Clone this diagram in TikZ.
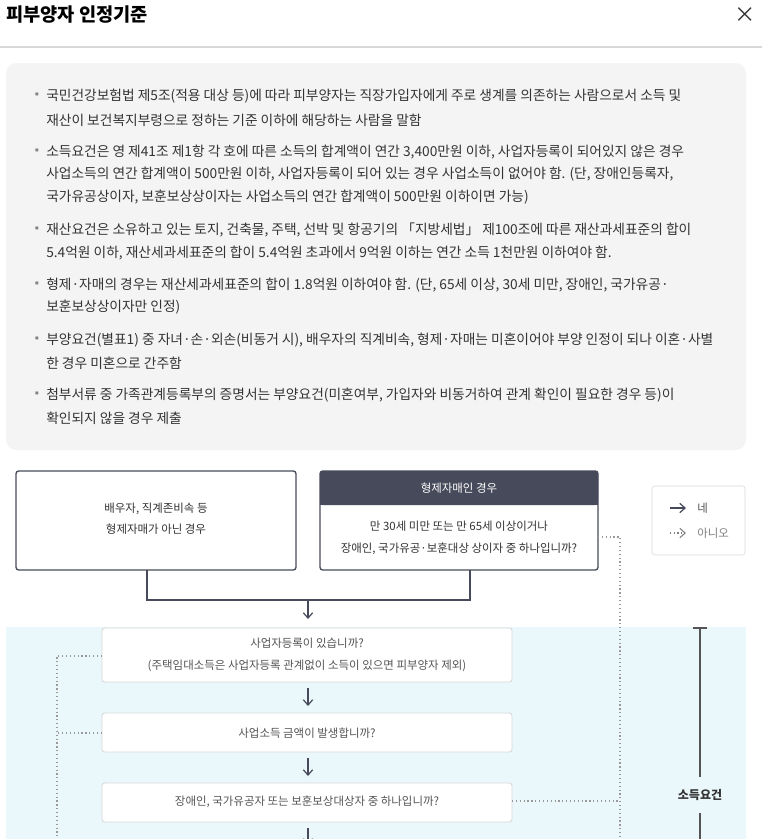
\documentclass[tikz,border=0pt]{standalone}
\usepackage{fontspec}
\setmainfont{Noto Sans CJK KR}
\usetikzlibrary{arrows.meta}
\definecolor{txt}{HTML}{333333}
\definecolor{gtxt}{HTML}{555555}
\definecolor{dark}{HTML}{474A5A}
\definecolor{panel}{HTML}{F4F4F4}
\definecolor{band}{HTML}{EAF8FC}
\definecolor{bord}{HTML}{D8D8D8}
\begin{document}
\begin{tikzpicture}[x=0.75pt,y=-0.75pt,
  bl/.style={anchor=west,text=txt,font=\fontsize{10.3}{12}\selectfont,inner sep=0},
  dot/.style={anchor=center,text=gray,font=\fontsize{8}{10}\selectfont,inner sep=0},
  wbox/.style={draw=bord,fill=white,rounded corners=2pt,line width=0.7pt},
  btxt/.style={text=gtxt,font=\fontsize{8.6}{16}\selectfont,align=center,inner sep=0},
  dtd/.style={draw=gray!80,dotted,line width=0.9pt},
  ar/.style={-{Straight Barb[length=4pt,width=7pt]},line width=0.9pt,draw=dark}]
\useasboundingbox (0,0) rectangle (762,839);
\fill[white] (0,0) rectangle (762,839);
\node[anchor=west,font=\fontsize{14}{16}\selectfont\bfseries,text=black,inner sep=0] (title) at (6,15) {피부양자 인정기준};
\node[font=\fontsize{16}{16}\selectfont,text=txt,inner sep=0] (close) at (745,15) {×};
\draw[bord,line width=0.8pt] (0,47) -- (762,47);
\fill[panel,rounded corners=8pt] (6,63) rectangle (746,450);
\foreach \y in {96,152,230,285,340,395} \node[dot] at (37,\y) {▪};
\node[bl] (l1) at (46,96) {국민건강보험법 제5조(적용 대상 등)에 따라 피부양자는 직장가입자에게 주로 생계를 의존하는 사람으로서 소득 및};
\node[bl] (l2) at (46,120) {재산이 보건복지부령으로 정하는 기준 이하에 해당하는 사람을 말함};
\node[bl] (l3) at (46,152) {소득요건은 영 제41조 제1항 각 호에 따른 소득의 합계액이 연간 3,400만원 이하, 사업자등록이 되어있지 않은 경우};
\node[bl] (l4) at (46,174) {사업소득의 연간 합계액이 500만원 이하, 사업자등록이 되어 있는 경우 사업소득이 없어야 함. (단, 장애인등록자,};
\node[bl] (l5) at (46,197) {국가유공상이자, 보훈보상상이자는 사업소득의 연간 합계액이 500만원 이하이면 가능)};
\node[bl] (l6) at (46,230) {재산요건은 소유하고 있는 토지, 건축물, 주택, 선박 및 항공기의 「지방세법」 제100조에 따른 재산과세표준의 합이};
\node[bl] (l7) at (46,253) {5.4억원 이하, 재산세과세표준의 합이 5.4억원 초과에서 9억원 이하는 연간 소득 1천만원 이하여야 함.};
\node[bl] (l8) at (46,285) {형제·자매의 경우는 재산세과세표준의 합이 1.8억원 이하여야 함. (단, 65세 이상, 30세 미만, 장애인, 국가유공·};
\node[bl] (l9) at (46,307) {보훈보상상이자만 인정)};
\node[bl] (l10) at (46,340) {부양요건(별표1) 중 자녀·손·외손(비동거 시), 배우자의 직계비속, 형제·자매는 미혼이어야 부양 인정이 되나 이혼·사별};
\node[bl] (l11) at (46,363) {한 경우 미혼으로 간주함};
\node[bl] (l12) at (46,395) {첨부서류 중 가족관계등록부의 증명서는 부양요건(미혼여부, 가입자와 비동거하여 관계 확인이 필요한 경우 등)이};
\node[bl] (l13) at (46,418) {확인되지 않을 경우 제출};
% band
\fill[band] (6,627) rectangle (746,839);
% top boxes
\draw[dark,fill=white,rounded corners=2pt,line width=1pt] (16,471) rectangle (296,570);
\node[btxt,text=txt] (left) at (156,519) {배우자, 직계존비속 등\\형제자매가 아닌 경우};
\draw[dark,fill=white,rounded corners=2pt,line width=1pt] (320,471) rectangle (598,570);
\fill[dark,rounded corners=2pt] (320,471) rectangle (598,505);
\fill[dark] (320,490) rectangle (598,505);
\node[btxt,text=white] (rh) at (459,488) {형제자매인 경우};
\node[btxt,text=txt] (rb) at (459,538) {만 30세 미만 또는 만 65세 이상이거나\\장애인, 국가유공·보훈대상 상이자 중 하나입니까?};
\draw[dark,line width=1pt] (147,570) -- (147,600) -- (470,600) -- (470,570);
\coordinate (j) at (308,600);
\coordinate (j2) at (308,619);
\draw[ar] (j) -- (j2);
% legend
\draw[bord,fill=white,rounded corners=2pt] (652,486) rectangle (745,555);
\coordinate (la) at (670,508); \coordinate (lb) at (686,508);
\draw[ar] (la) -- (lb);
\node[btxt,anchor=west] (yes) at (697,508) {네};
\coordinate (lc) at (670,533); \coordinate (ld) at (686,533);
\draw[-{Straight Barb[length=4pt,width=7pt]},gray,line width=0.8pt,dotted] (lc) -- (ld);
\node[btxt,anchor=west,text=gray] (no) at (697,533) {아니오};
% flow boxes
\draw[wbox] (102,628) rectangle (512,682);
\node[btxt] (b1) at (307,655) {사업자등록이 있습니까?\\(주택임대소득은 사업자등록 관계없이 소득이 있으면 피부양자 제외)};
\draw[wbox] (102,713) rectangle (512,752);
\node[btxt] (b2) at (307,733) {사업소득 금액이 발생합니까?};
\draw[wbox] (102,783) rectangle (512,822);
\node[btxt] (b3) at (307,802) {장애인, 국가유공자 또는 보훈보상대상자 중 하나입니까?};
\coordinate (a1) at (308,688); \coordinate (a2) at (308,706);
\draw[ar] (a1) -- (a2);
\coordinate (a3) at (308,758); \coordinate (a4) at (308,776);
\draw[ar] (a3) -- (a4);
\coordinate (a5) at (308,828); \coordinate (a6) at (308,845);
\draw[ar] (a5) -- (a6);
% dotted
\draw[dtd] (102,656) -- (57,656) -- (57,839);
\draw[dtd] (102,733) -- (57,733);
\draw[dtd] (598,537) -- (620,537) -- (620,839);
\draw[dtd] (512,801) -- (620,801);
% bracket
\draw[gtxt,line width=0.8pt] (693,628) -- (707,628);
\draw[gtxt,line width=0.8pt] (700,628) -- (700,777);
\node[font=\fontsize{9}{10}\selectfont\bfseries,text=txt,inner sep=0] (inc) at (700,795) {소득요건};
\draw[gtxt,line width=0.8pt] (700,813) -- (700,839);
\end{tikzpicture}
\end{document}
